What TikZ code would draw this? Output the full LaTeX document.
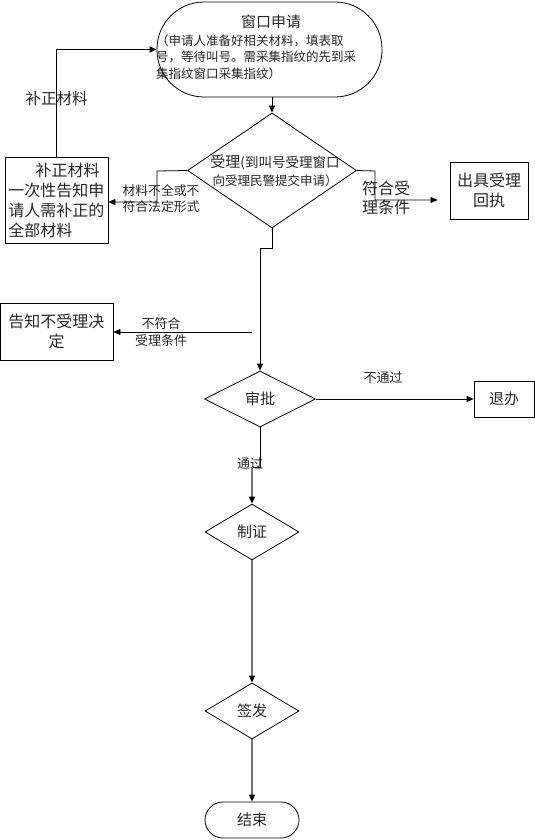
\documentclass[tikz,border=0pt]{standalone}
\usepackage{fontspec}
\setmainfont{Noto Sans CJK SC}
\usetikzlibrary{shapes.geometric,arrows.meta}
\begin{document}
\begin{tikzpicture}[x=1pt,y=-1pt,
  every node/.style={text=black!85},
  ln/.style={draw=black, line width=0.8pt},
  gl/.style={draw=black!55, line width=1.3pt},
  arr/.style={-{Triangle[length=7pt,width=6pt,color=black,fill=black]}},
  boxn/.style={draw=black, line width=0.8pt, inner sep=0pt},
  dia/.style={draw=black, diamond, line width=0.8pt, inner sep=0pt},
  lbl/.style={inner sep=0pt, align=center},
  fbig/.style={font=\fontsize{16}{20}\selectfont},
  fmid/.style={font=\fontsize{15}{18}\selectfont},
  fsml/.style={font=\fontsize{12.5}{16.5}\selectfont},
  flab/.style={font=\fontsize{13}{17}\selectfont},
  ]
\useasboundingbox (0,0) rectangle (535,840);
% nodes
\node[boxn, rounded corners=47pt, minimum width=225pt, minimum height=95pt] (start) at (269.5,49.5) {};
\node[lbl, fmid] (startt) at (271,22) {窗口申请};
\node[lbl, fsml, align=left, anchor=west] (startb) at (156,57) {（申请人准备好相关材料，填表取\\号，等待叫号。需采集指纹的先到采\\集指纹窗口采集指纹）};

\node[dia, minimum width=169pt, minimum height=115pt] (d1) at (272,170.5) {};
\node[lbl, font=\fontsize{12.5}{18}\selectfont] (d1t) at (275,171) {{\fontsize{15}{18}\selectfont 受理}{\fontsize{13.5}{18}\selectfont (到叫号受理窗口}\\向受理民警提交申请）};

\node[boxn, fbig, align=center, minimum width=78pt, minimum height=57pt] (rec) at (489,190.5) {出具受理\\回执};
\node[boxn, fbig, align=left, minimum width=103pt, minimum height=86pt] (bz) at (56.5,200) {\hspace*{1.7em}补正材料\\一次性告知申\\请人需补正的\\全部材料};
\node[boxn, fbig, align=center, minimum width=113pt, minimum height=57pt] (gz) at (56.5,331.5) {告知不受理决\\定};

\node[dia, fmid, minimum width=111pt, minimum height=56pt] (d2) at (260,399) {审批};
\node[boxn, fmid, minimum width=60pt, minimum height=36pt] (tb) at (504,399) {退办};
\node[dia, fmid, minimum width=94pt, minimum height=56pt] (d3) at (252,532) {制证};
\node[dia, fmid, minimum width=94pt, minimum height=56pt] (d4) at (252,711) {签发};
\node[boxn, fmid, rounded corners=18pt, minimum width=94pt, minimum height=36pt] (end) at (252,820) {结束};

% labels
\node[lbl, font=\fontsize{15.5}{18}\selectfont] (lbz) at (56.5,99) {补正材料};
\node[lbl, font=\fontsize{16}{19}\selectfont] (lfh) at (386,197.5) {符合受\\理条件};
\node[lbl, font=\fontsize{12.8}{16}\selectfont] (lbq) at (161,199) {材料不全或不\\符合法定形式};
\node[lbl, flab] (lbf) at (161,332.5) {不符合\\受理条件};
\node[lbl, flab] (lbt) at (383,378) {不通过};
\node[lbl, flab] (ltg) at (250,464) {通过};

% connectors
\draw[ln,arr] (start.south -| d1.north) -- (d1.north);
\coordinate (r1) at (375,171);
\coordinate (r2) at (375,200);
\draw[ln,arr,shorten >=12pt] (d1.east) -- (r1) -- (r2) -- (rec.west |- r2);
\coordinate (l1) at (157,171);
\coordinate (l2) at (157,202);
\draw[ln,arr] (d1.west) -- (l1) -- (l2) -- (bz.east |- l2);
\draw[ln,arr] (bz.north) |- (start.west);
\coordinate (m1) at (272,248);
\coordinate (m2) at (260,248);
\draw[ln,arr] (d1.south) -- (m1) -- (m2) -- (d2.north);
\coordinate (n1) at (252,332);
\draw[ln,arr] (n1) -- (gz.east |- n1);
\draw[ln,arr] (d2.east) -- (tb.west);
\coordinate (p1) at (260,467);
\coordinate (p2) at (252,467);
\draw[ln] (d2.south) -- (p1) -- (p2);
\draw[gl,arr] (p2) -- (d3.north);
\draw[gl,arr] (d3.south) -- (d4.north);
\draw[gl,arr] (d4.south) -- (end.north);
\end{tikzpicture}
\end{document}
